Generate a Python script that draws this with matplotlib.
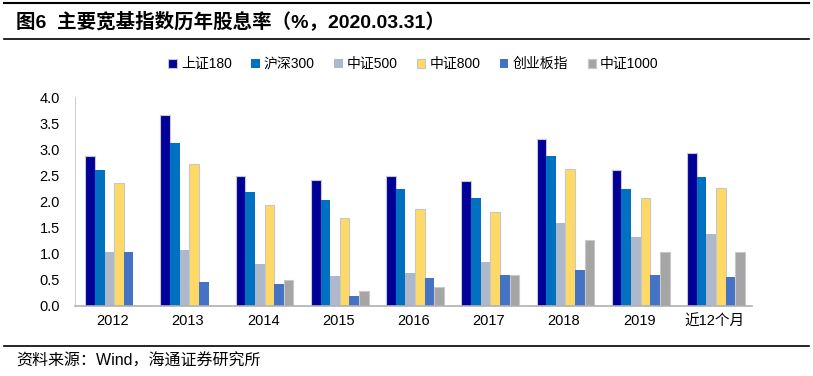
import numpy as np
import matplotlib.pyplot as plt
from matplotlib.lines import Line2D

plt.rcParams['font.family'] = ['Liberation Sans', 'Noto Sans CJK SC', 'DejaVu Sans']

# data
years = ['2012', '2013', '2014', '2015', '2016', '2017', '2018', '2019', '近12个月']
sz180 = [2.88, 3.65, 2.48, 2.41, 2.48, 2.40, 3.19, 2.60, 2.92]
hs300 = [2.61, 3.12, 2.18, 2.03, 2.24, 2.07, 2.87, 2.24, 2.47]
zz500 = [1.04, 1.07, 0.80, 0.58, 0.63, 0.84, 1.59, 1.32, 1.38]
zz800 = [2.35, 2.71, 1.93, 1.68, 1.86, 1.80, 2.63, 2.06, 2.25]
cyb = [1.04, 0.46, 0.42, 0.19, 0.54, 0.59, 0.69, 0.59, 0.56]
zz1000 = [0, 0, 0.49, 0.28, 0.37, 0.59, 1.26, 1.04, 1.04]

series = [('上证180', sz180, '#000099', '#c8c8c8'),
          ('沪深300', hs300, '#0070C0', 'none'),
          ('中证500', zz500, '#ADB9CA', 'none'),
          ('中证800', zz800, '#FFD966', '#c8c8c8'),
          ('创业板指', cyb, '#4472C4', 'none'),
          ('中证1000', zz1000, '#A5A5A5', '#c8c8c8')]

fig = plt.figure(figsize=(8.13, 3.76), dpi=100)
ax = fig.add_axes([0.0923, 0.1862, 0.8327, 0.5558])

x = np.arange(len(years))
w = 0.128
for i, (name, vals, col, ec) in enumerate(series):
    ax.bar(x + (i - 2.5) * w + 0.02, vals, w, color=col, label=name,
           edgecolor=ec, linewidth=0.8 if ec != 'none' else 0)

ax.set_xlim(-0.5, len(years) - 0.5)
ax.set_ylim(0, 4.0)
ax.set_yticks(np.arange(0, 4.01, 0.5))
ax.set_yticklabels(['%.1f' % v for v in np.arange(0, 4.01, 0.5)])
ax.set_xticks(x)
ax.set_xticklabels(years)
ax.tick_params(axis='both', length=0, labelsize=10.5, pad=6)
ax.tick_params(axis='y', pad=11)
for s in ['top', 'right']:
    ax.spines[s].set_visible(False)
ax.spines['left'].set_color('#d0d0d0')
ax.spines['bottom'].set_color('#b0b0b0')
ax.spines['bottom'].set_linewidth(1.2)

ax.legend(loc='upper center', bbox_to_anchor=(0.5, 1.25), ncol=6, frameon=False,
          fontsize=10, handlelength=0.6, handleheight=0.6, handletextpad=0.3,
          columnspacing=1.4)

# title, rules and source
fig.text(0.020, 0.945, '图6  主要宽基指数历年股息率（%，2020.03.31）', fontsize=14,
         fontweight='bold', va='center', ha='left')
fig.add_artist(Line2D([0.005, 0.995], [0.992, 0.992], color='black', lw=1.5))
fig.add_artist(Line2D([0.005, 0.995], [0.896, 0.896], color='black', lw=1.2))
fig.add_artist(Line2D([0.005, 0.995], [0.080, 0.080], color='black', lw=1.2))
fig.text(0.020, 0.040, '资料来源：Wind，海通证券研究所', fontsize=11.5, va='center', ha='left')

fig.savefig('out.png', dpi=100)
